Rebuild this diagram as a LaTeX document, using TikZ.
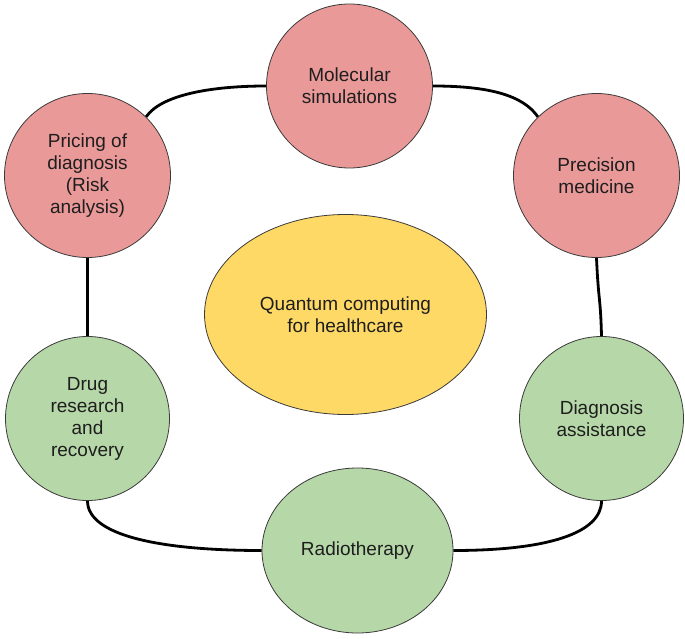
\documentclass[tikz,border=0pt]{standalone}
\usepackage{fontspec}
\setmainfont{Liberation Sans}
\usetikzlibrary{shapes.geometric}
\definecolor{redfill}{HTML}{EA9999}
\definecolor{greenfill}{HTML}{B6D7A8}
\definecolor{yellowfill}{HTML}{FFD966}
\definecolor{edge}{HTML}{3A3A3A}
\definecolor{txt}{HTML}{1E1E1E}
\begin{document}
\begin{tikzpicture}[x=1pt,y=-1pt,
  topic/.style={ellipse, draw=edge, line width=0.8pt, inner sep=0pt,
    align=center, text=txt, font=\fontsize{19}{22}\selectfont},
  redc/.style={topic, fill=redfill, minimum width=166pt, minimum height=164pt},
  greenc/.style={topic, fill=greenfill, minimum width=164pt, minimum height=164pt},
  link/.style={line width=2.8pt, black}]
\useasboundingbox (0,0) rectangle (685,639);
\node[redc] (mol) at (349.5,86) {Molecular\\simulations};
\node[redc] (pric) at (87.5,175.5) {Pricing of\\diagnosis\\(Risk\\analysis)};
\node[redc] (prec) at (596.5,175.5) {Precision\\medicine};
\node[greenc] (drug) at (87.5,418.5) {Drug\\research\\and\\recovery};
\node[greenc] (diag) at (601.5,418.5) {Diagnosis\\assistance};
\node[greenc, minimum width=191pt, minimum height=165pt] (radio) at (357.5,550.5) {Radiotherapy};
\node[topic, fill=yellowfill, minimum width=282pt, minimum height=200pt] (qc) at (345.5,314.5) {Quantum computing\\for healthcare};
\draw[link] (pric.45) .. controls +(15,-22) and +(-55,0) .. (mol.west);
\draw[link] (mol.east) .. controls +(55,0) and +(-15,-22) .. (prec.135);
\draw[link] (prec.south) .. controls +(2,45) and +(-1,-40) .. (diag.north);
\draw[link] (diag.south) .. controls +(0,32) and +(95,0) .. (radio.east);
\draw[link] (radio.west) .. controls +(-100,0) and +(0,35) .. (drug.south);
\draw[link] (drug.north) -- (pric.south);
\end{tikzpicture}
\end{document}
